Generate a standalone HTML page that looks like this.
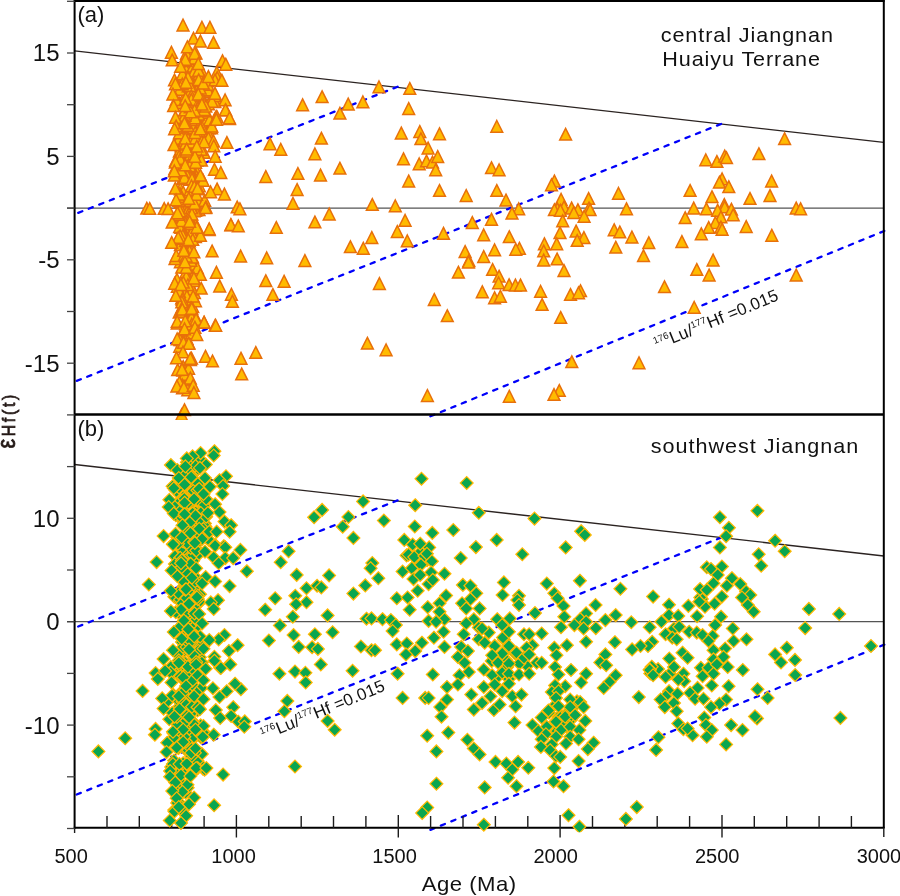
<!DOCTYPE html><html><head><meta charset="utf-8"><title>Hf isotope plot</title>
<style>html,body{margin:0;padding:0;background:#fff}svg{display:block}text{font-family:"Liberation Sans",Arial,sans-serif;fill:#111}</style></head><body>
<svg width="900" height="896" viewBox="0 0 900 896">
<rect width="900" height="896" fill="#fff"/>
<defs><clipPath id="ca"><rect x="70" y="0" width="820" height="420"/></clipPath><clipPath id="cb"><rect x="70" y="414.2" width="820" height="418"/></clipPath></defs>
<g fill="none" stroke="#2b2321" stroke-width="1.3">
<path d="M74.6 50.9L883.8 142.4"/>
<path d="M74.6 464.5L883.8 556"/>
</g>
<g fill="none" stroke="#555" stroke-width="1.3">
<path d="M67 208.1H883.8"/>
<path d="M67 621.7H883.8"/>
</g>
<g fill="none" stroke="#0000fa" stroke-width="2.3" stroke-linecap="round" stroke-dasharray="4.4 6.9">
<g clip-path="url(#ca)">
<path d="M78.2 212.9L398 86.6"/>
<path d="M76.7 380.9L721.8 123.7"/>
<path d="M430.4 416.3L884.5 230.9"/>
</g><g clip-path="url(#cb)">
<path d="M78.2 626.5L398 500.2"/>
<path d="M76.7 794.5L721.8 537.3"/>
<path d="M430.4 829.9L884.5 644.5"/>
</g></g>
<g fill="none" stroke="#000" stroke-width="2">
<path d="M73.8 827.8H884.5999999999999"/>
</g><g fill="none" stroke="#1c1c1c" stroke-width="1.4">
<path d="M74.6 828V833"/>
<path d="M107.0 816V828"/>
<path d="M139.3 816V828"/>
<path d="M171.7 816V828"/>
<path d="M204.1 816V828"/>
<path d="M236.4 815V837.5"/>
<path d="M268.8 816V828"/>
<path d="M301.2 816V828"/>
<path d="M333.5 816V828"/>
<path d="M365.9 816V828"/>
<path d="M398.3 815V837.5"/>
<path d="M430.6 816V828"/>
<path d="M463.0 816V828"/>
<path d="M495.4 816V828"/>
<path d="M527.8 816V828"/>
<path d="M560.1 815V837.5"/>
<path d="M592.5 816V828"/>
<path d="M624.9 816V828"/>
<path d="M657.2 816V828"/>
<path d="M689.6 816V828"/>
<path d="M722.0 815V837.5"/>
<path d="M754.3 816V828"/>
<path d="M786.7 816V828"/>
<path d="M819.1 816V828"/>
<path d="M851.4 816V828"/>
<path d="M883.8 828V837"/>
</g>
<defs><path id="t" d="M0-5.9L5.9 5.85H-5.9Z"/></defs>
<g clip-path="url(#ca)" fill="#FFBB00" stroke="#E8700A" stroke-width="1.5">
<use href="#t" x="186.9" y="77.6"/>
<use href="#t" x="202.7" y="72.9"/>
<use href="#t" x="190.9" y="293.3"/>
<use href="#t" x="197.1" y="172.3"/>
<use href="#t" x="184.4" y="334.5"/>
<use href="#t" x="201.6" y="96.2"/>
<use href="#t" x="186.4" y="159.0"/>
<use href="#t" x="178.8" y="143.6"/>
<use href="#t" x="192.5" y="257.0"/>
<use href="#t" x="187.0" y="163.4"/>
<use href="#t" x="192.9" y="198.1"/>
<use href="#t" x="194.0" y="171.8"/>
<use href="#t" x="184.8" y="95.5"/>
<use href="#t" x="194.7" y="187.0"/>
<use href="#t" x="193.9" y="190.5"/>
<use href="#t" x="180.4" y="261.8"/>
<use href="#t" x="187.2" y="323.4"/>
<use href="#t" x="194.2" y="102.4"/>
<use href="#t" x="179.2" y="138.4"/>
<use href="#t" x="182.5" y="237.2"/>
<use href="#t" x="207.3" y="140.9"/>
<use href="#t" x="174.8" y="168.7"/>
<use href="#t" x="184.4" y="244.1"/>
<use href="#t" x="182.7" y="178.7"/>
<use href="#t" x="208.0" y="80.8"/>
<use href="#t" x="179.7" y="218.7"/>
<use href="#t" x="186.3" y="70.0"/>
<use href="#t" x="180.4" y="244.7"/>
<use href="#t" x="190.5" y="179.5"/>
<use href="#t" x="185.4" y="225.3"/>
<use href="#t" x="198.6" y="137.2"/>
<use href="#t" x="207.5" y="123.0"/>
<use href="#t" x="192.3" y="278.8"/>
<use href="#t" x="184.9" y="208.7"/>
<use href="#t" x="186.2" y="87.1"/>
<use href="#t" x="186.0" y="232.9"/>
<use href="#t" x="179.2" y="312.2"/>
<use href="#t" x="198.3" y="119.6"/>
<use href="#t" x="216.3" y="97.9"/>
<use href="#t" x="197.4" y="117.5"/>
<use href="#t" x="194.6" y="278.9"/>
<use href="#t" x="181.0" y="146.0"/>
<use href="#t" x="179.4" y="151.1"/>
<use href="#t" x="185.5" y="324.0"/>
<use href="#t" x="190.4" y="168.8"/>
<use href="#t" x="209.0" y="127.8"/>
<use href="#t" x="194.5" y="78.0"/>
<use href="#t" x="183.9" y="76.5"/>
<use href="#t" x="193.4" y="224.1"/>
<use href="#t" x="208.8" y="141.5"/>
<use href="#t" x="183.4" y="172.2"/>
<use href="#t" x="188.0" y="55.8"/>
<use href="#t" x="179.7" y="89.4"/>
<use href="#t" x="186.1" y="230.0"/>
<use href="#t" x="189.4" y="240.9"/>
<use href="#t" x="188.8" y="166.3"/>
<use href="#t" x="191.4" y="172.8"/>
<use href="#t" x="200.9" y="105.9"/>
<use href="#t" x="188.6" y="177.5"/>
<use href="#t" x="177.1" y="165.2"/>
<use href="#t" x="210.0" y="127.2"/>
<use href="#t" x="194.6" y="273.2"/>
<use href="#t" x="190.6" y="328.3"/>
<use href="#t" x="190.8" y="304.0"/>
<use href="#t" x="182.3" y="236.5"/>
<use href="#t" x="185.7" y="244.6"/>
<use href="#t" x="183.2" y="366.5"/>
<use href="#t" x="191.9" y="99.3"/>
<use href="#t" x="188.7" y="176.1"/>
<use href="#t" x="193.4" y="152.0"/>
<use href="#t" x="193.9" y="88.3"/>
<use href="#t" x="175.6" y="160.5"/>
<use href="#t" x="195.9" y="124.3"/>
<use href="#t" x="194.4" y="292.6"/>
<use href="#t" x="186.0" y="209.3"/>
<use href="#t" x="199.0" y="209.7"/>
<use href="#t" x="183.9" y="220.7"/>
<use href="#t" x="211.2" y="125.9"/>
<use href="#t" x="182.4" y="120.2"/>
<use href="#t" x="187.3" y="213.0"/>
<use href="#t" x="180.0" y="202.4"/>
<use href="#t" x="186.7" y="249.5"/>
<use href="#t" x="187.7" y="143.3"/>
<use href="#t" x="184.6" y="300.0"/>
<use href="#t" x="183.6" y="101.8"/>
<use href="#t" x="194.0" y="210.8"/>
<use href="#t" x="180.7" y="117.8"/>
<use href="#t" x="206.6" y="120.0"/>
<use href="#t" x="204.1" y="152.5"/>
<use href="#t" x="187.8" y="278.4"/>
<use href="#t" x="180.4" y="160.6"/>
<use href="#t" x="204.3" y="90.0"/>
<use href="#t" x="188.4" y="111.5"/>
<use href="#t" x="182.2" y="235.5"/>
<use href="#t" x="211.5" y="127.9"/>
<use href="#t" x="192.8" y="306.7"/>
<use href="#t" x="190.9" y="89.2"/>
<use href="#t" x="183.3" y="255.8"/>
<use href="#t" x="190.4" y="200.4"/>
<use href="#t" x="185.6" y="223.3"/>
<use href="#t" x="194.3" y="133.5"/>
<use href="#t" x="193.4" y="279.7"/>
<use href="#t" x="184.6" y="233.2"/>
<use href="#t" x="193.1" y="66.1"/>
<use href="#t" x="187.0" y="129.3"/>
<use href="#t" x="196.2" y="204.8"/>
<use href="#t" x="214.9" y="101.6"/>
<use href="#t" x="194.2" y="203.4"/>
<use href="#t" x="191.0" y="158.7"/>
<use href="#t" x="182.3" y="337.2"/>
<use href="#t" x="181.7" y="153.3"/>
<use href="#t" x="196.0" y="136.0"/>
<use href="#t" x="190.2" y="380.3"/>
<use href="#t" x="193.4" y="106.8"/>
<use href="#t" x="199.5" y="124.5"/>
<use href="#t" x="193.5" y="85.3"/>
<use href="#t" x="174.5" y="80.0"/>
<use href="#t" x="193.8" y="72.8"/>
<use href="#t" x="184.2" y="252.7"/>
<use href="#t" x="196.5" y="82.4"/>
<use href="#t" x="192.0" y="204.5"/>
<use href="#t" x="189.2" y="205.8"/>
<use href="#t" x="182.7" y="370.1"/>
<use href="#t" x="185.8" y="153.4"/>
<use href="#t" x="194.3" y="224.6"/>
<use href="#t" x="195.6" y="68.1"/>
<use href="#t" x="179.2" y="156.1"/>
<use href="#t" x="185.4" y="240.7"/>
<use href="#t" x="197.1" y="160.1"/>
<use href="#t" x="185.5" y="264.4"/>
<use href="#t" x="186.9" y="158.3"/>
<use href="#t" x="180.3" y="188.9"/>
<use href="#t" x="195.3" y="98.1"/>
<use href="#t" x="195.4" y="236.7"/>
<use href="#t" x="181.8" y="267.2"/>
<use href="#t" x="191.7" y="54.6"/>
<use href="#t" x="183.5" y="291.8"/>
<use href="#t" x="199.2" y="133.5"/>
<use href="#t" x="194.1" y="109.1"/>
<use href="#t" x="194.9" y="224.0"/>
<use href="#t" x="216.2" y="116.4"/>
<use href="#t" x="183.4" y="214.1"/>
<use href="#t" x="188.0" y="240.6"/>
<use href="#t" x="195.2" y="235.6"/>
<use href="#t" x="191.7" y="191.0"/>
<use href="#t" x="195.3" y="188.0"/>
<use href="#t" x="204.2" y="81.4"/>
<use href="#t" x="183.0" y="159.8"/>
<use href="#t" x="189.7" y="179.3"/>
<use href="#t" x="196.4" y="132.6"/>
<use href="#t" x="186.1" y="151.0"/>
<use href="#t" x="210.0" y="91.9"/>
<use href="#t" x="188.9" y="326.2"/>
<use href="#t" x="195.0" y="58.7"/>
<use href="#t" x="181.6" y="339.7"/>
<use href="#t" x="181.6" y="160.6"/>
<use href="#t" x="185.0" y="236.4"/>
<use href="#t" x="189.5" y="80.8"/>
<use href="#t" x="189.6" y="273.2"/>
<use href="#t" x="203.3" y="112.4"/>
<use href="#t" x="195.0" y="159.7"/>
<use href="#t" x="180.9" y="227.4"/>
<use href="#t" x="199.3" y="185.9"/>
<use href="#t" x="199.4" y="126.3"/>
<use href="#t" x="205.0" y="103.9"/>
<use href="#t" x="216.8" y="72.4"/>
<use href="#t" x="214.6" y="119.4"/>
<use href="#t" x="184.0" y="341.9"/>
<use href="#t" x="192.5" y="230.9"/>
<use href="#t" x="186.3" y="135.4"/>
<use href="#t" x="194.9" y="180.6"/>
<use href="#t" x="190.8" y="165.7"/>
<use href="#t" x="188.0" y="381.6"/>
<use href="#t" x="188.2" y="310.4"/>
<use href="#t" x="198.4" y="114.1"/>
<use href="#t" x="183.4" y="336.2"/>
<use href="#t" x="192.7" y="189.6"/>
<use href="#t" x="180.8" y="201.9"/>
<use href="#t" x="184.3" y="164.3"/>
<use href="#t" x="185.4" y="237.5"/>
<use href="#t" x="183.1" y="216.7"/>
<use href="#t" x="192.7" y="177.9"/>
<use href="#t" x="184.3" y="383.3"/>
<use href="#t" x="190.1" y="177.2"/>
<use href="#t" x="209.5" y="119.8"/>
<use href="#t" x="200.1" y="135.0"/>
<use href="#t" x="209.2" y="90.1"/>
<use href="#t" x="177.4" y="286.3"/>
<use href="#t" x="188.9" y="342.9"/>
<use href="#t" x="185.2" y="144.2"/>
<use href="#t" x="178.2" y="238.4"/>
<use href="#t" x="208.4" y="104.0"/>
<use href="#t" x="187.2" y="104.7"/>
<use href="#t" x="187.0" y="385.7"/>
<use href="#t" x="183.8" y="329.9"/>
<use href="#t" x="192.2" y="289.1"/>
<use href="#t" x="186.0" y="276.1"/>
<use href="#t" x="186.8" y="213.2"/>
<use href="#t" x="194.2" y="71.1"/>
<use href="#t" x="207.7" y="89.8"/>
<use href="#t" x="182.1" y="215.2"/>
<use href="#t" x="188.1" y="103.6"/>
<use href="#t" x="182.9" y="216.6"/>
<use href="#t" x="184.2" y="375.2"/>
<use href="#t" x="182.2" y="297.3"/>
<use href="#t" x="182.1" y="172.9"/>
<use href="#t" x="183.5" y="386.0"/>
<use href="#t" x="179.6" y="226.7"/>
<use href="#t" x="183.3" y="173.2"/>
<use href="#t" x="182.5" y="167.2"/>
<use href="#t" x="188.6" y="368.3"/>
<use href="#t" x="190.1" y="207.9"/>
<use href="#t" x="182.7" y="341.6"/>
<use href="#t" x="184.4" y="302.8"/>
<use href="#t" x="191.7" y="232.5"/>
<use href="#t" x="182.2" y="125.1"/>
<use href="#t" x="191.5" y="358.2"/>
<use href="#t" x="207.8" y="84.4"/>
<use href="#t" x="181.6" y="200.5"/>
<use href="#t" x="180.3" y="158.8"/>
<use href="#t" x="187.7" y="298.8"/>
<use href="#t" x="198.6" y="132.9"/>
<use href="#t" x="187.0" y="167.0"/>
<use href="#t" x="205.5" y="110.8"/>
<use href="#t" x="186.1" y="80.0"/>
<use href="#t" x="187.9" y="309.6"/>
<use href="#t" x="183.1" y="300.9"/>
<use href="#t" x="196.0" y="53.2"/>
<use href="#t" x="187.0" y="338.4"/>
<use href="#t" x="188.3" y="126.6"/>
<use href="#t" x="190.5" y="154.5"/>
<use href="#t" x="183.9" y="117.2"/>
<use href="#t" x="188.2" y="85.9"/>
<use href="#t" x="196.3" y="210.0"/>
<use href="#t" x="184.7" y="374.4"/>
<use href="#t" x="186.6" y="174.2"/>
<use href="#t" x="187.7" y="200.3"/>
<use href="#t" x="188.6" y="164.8"/>
<use href="#t" x="190.1" y="309.5"/>
<use href="#t" x="193.4" y="146.6"/>
<use href="#t" x="193.1" y="147.4"/>
<use href="#t" x="193.9" y="264.2"/>
<use href="#t" x="195.0" y="198.9"/>
<use href="#t" x="197.7" y="151.6"/>
<use href="#t" x="175.0" y="258.7"/>
<use href="#t" x="195.5" y="300.9"/>
<use href="#t" x="192.9" y="128.6"/>
<use href="#t" x="195.1" y="210.3"/>
<use href="#t" x="188.2" y="299.9"/>
<use href="#t" x="177.0" y="279.4"/>
<use href="#t" x="183.0" y="206.3"/>
<use href="#t" x="197.4" y="268.0"/>
<use href="#t" x="190.8" y="260.3"/>
<use href="#t" x="191.0" y="94.4"/>
<use href="#t" x="189.7" y="165.7"/>
<use href="#t" x="198.6" y="188.9"/>
<use href="#t" x="198.8" y="125.9"/>
<use href="#t" x="207.6" y="132.1"/>
<use href="#t" x="198.7" y="140.4"/>
<use href="#t" x="186.0" y="271.8"/>
<use href="#t" x="186.9" y="296.3"/>
<use href="#t" x="181.5" y="311.3"/>
<use href="#t" x="200.0" y="102.3"/>
<use href="#t" x="195.7" y="185.2"/>
<use href="#t" x="188.3" y="277.8"/>
<use href="#t" x="199.2" y="73.6"/>
<use href="#t" x="174.7" y="283.3"/>
<use href="#t" x="179.1" y="102.7"/>
<use href="#t" x="194.7" y="143.4"/>
<use href="#t" x="214.8" y="95.6"/>
<use href="#t" x="189.2" y="254.8"/>
<use href="#t" x="185.5" y="209.6"/>
<use href="#t" x="182.8" y="235.6"/>
<use href="#t" x="186.5" y="53.5"/>
<use href="#t" x="192.7" y="239.5"/>
<use href="#t" x="185.5" y="322.5"/>
<use href="#t" x="193.9" y="280.6"/>
<use href="#t" x="193.6" y="127.5"/>
<use href="#t" x="190.8" y="110.9"/>
<use href="#t" x="197.2" y="104.3"/>
<use href="#t" x="180.3" y="207.7"/>
<use href="#t" x="185.7" y="143.1"/>
<use href="#t" x="193.0" y="111.7"/>
<use href="#t" x="217.2" y="117.0"/>
<use href="#t" x="191.4" y="206.9"/>
<use href="#t" x="190.5" y="359.6"/>
<use href="#t" x="186.1" y="60.6"/>
<use href="#t" x="186.3" y="276.8"/>
<use href="#t" x="181.7" y="298.1"/>
<use href="#t" x="191.3" y="119.6"/>
<use href="#t" x="182.2" y="384.7"/>
<use href="#t" x="187.9" y="284.7"/>
<use href="#t" x="195.1" y="117.8"/>
<use href="#t" x="202.0" y="127.4"/>
<use href="#t" x="201.2" y="134.7"/>
<use href="#t" x="217.2" y="77.6"/>
<use href="#t" x="184.9" y="115.3"/>
<use href="#t" x="192.2" y="257.2"/>
<use href="#t" x="187.9" y="240.9"/>
<use href="#t" x="196.8" y="90.9"/>
<use href="#t" x="201.0" y="149.4"/>
<use href="#t" x="196.7" y="199.8"/>
<use href="#t" x="189.5" y="251.2"/>
<use href="#t" x="177.7" y="369.7"/>
<use href="#t" x="194.4" y="58.2"/>
<use href="#t" x="200.2" y="88.2"/>
<use href="#t" x="202.8" y="100.2"/>
<use href="#t" x="190.3" y="142.2"/>
<use href="#t" x="190.4" y="104.4"/>
<use href="#t" x="191.0" y="90.4"/>
<use href="#t" x="185.8" y="214.4"/>
<use href="#t" x="176.2" y="255.6"/>
<use href="#t" x="187.1" y="212.0"/>
<use href="#t" x="184.0" y="329.6"/>
<use href="#t" x="180.8" y="200.9"/>
<use href="#t" x="182.5" y="387.9"/>
<use href="#t" x="191.5" y="317.3"/>
<use href="#t" x="189.1" y="83.9"/>
<use href="#t" x="183.3" y="282.2"/>
<use href="#t" x="191.5" y="208.0"/>
<use href="#t" x="199.1" y="71.0"/>
<use href="#t" x="186.3" y="267.4"/>
<use href="#t" x="198.0" y="107.8"/>
<use href="#t" x="189.9" y="85.6"/>
<use href="#t" x="179.9" y="339.6"/>
<use href="#t" x="178.9" y="200.5"/>
<use href="#t" x="190.9" y="334.3"/>
<use href="#t" x="185.1" y="109.9"/>
<use href="#t" x="204.2" y="109.6"/>
<use href="#t" x="184.2" y="175.2"/>
<use href="#t" x="212.0" y="101.4"/>
<use href="#t" x="189.0" y="216.7"/>
<use href="#t" x="201.4" y="160.2"/>
<use href="#t" x="180.1" y="235.9"/>
<use href="#t" x="183.2" y="192.1"/>
<use href="#t" x="182.5" y="73.9"/>
<use href="#t" x="191.2" y="223.4"/>
<use href="#t" x="191.7" y="324.2"/>
<use href="#t" x="184.7" y="254.4"/>
<use href="#t" x="181.9" y="307.2"/>
<use href="#t" x="184.5" y="177.3"/>
<use href="#t" x="200.9" y="79.8"/>
<use href="#t" x="191.1" y="309.0"/>
<use href="#t" x="190.2" y="106.8"/>
<use href="#t" x="190.6" y="200.4"/>
<use href="#t" x="186.2" y="256.1"/>
<use href="#t" x="181.0" y="170.0"/>
<use href="#t" x="215.0" y="80.0"/>
<use href="#t" x="195.5" y="138.1"/>
<use href="#t" x="195.2" y="132.6"/>
<use href="#t" x="191.9" y="214.1"/>
<use href="#t" x="205.8" y="106.1"/>
<use href="#t" x="201.8" y="141.5"/>
<use href="#t" x="176.2" y="99.6"/>
<use href="#t" x="192.0" y="179.0"/>
<use href="#t" x="187.9" y="125.4"/>
<use href="#t" x="178.6" y="196.5"/>
<use href="#t" x="184.4" y="249.3"/>
<use href="#t" x="179.4" y="291.3"/>
<use href="#t" x="190.1" y="189.9"/>
<use href="#t" x="182.3" y="84.0"/>
<use href="#t" x="182.2" y="299.4"/>
<use href="#t" x="208.4" y="138.0"/>
<use href="#t" x="203.1" y="180.3"/>
<use href="#t" x="198.6" y="70.4"/>
<use href="#t" x="191.3" y="95.8"/>
<use href="#t" x="180.2" y="193.9"/>
<use href="#t" x="211.8" y="126.1"/>
<use href="#t" x="181.8" y="301.8"/>
<use href="#t" x="187.9" y="77.5"/>
<use href="#t" x="181.4" y="220.6"/>
<use href="#t" x="195.6" y="162.3"/>
<use href="#t" x="191.5" y="185.9"/>
<use href="#t" x="179.9" y="211.0"/>
<use href="#t" x="186.1" y="151.1"/>
<use href="#t" x="191.3" y="99.6"/>
<use href="#t" x="184.9" y="261.8"/>
<use href="#t" x="198.7" y="79.7"/>
<use href="#t" x="191.9" y="332.9"/>
<use href="#t" x="204.7" y="200.3"/>
<use href="#t" x="179.7" y="346.3"/>
<use href="#t" x="185.3" y="59.4"/>
<use href="#t" x="213.5" y="141.1"/>
<use href="#t" x="188.3" y="239.6"/>
<use href="#t" x="179.4" y="132.8"/>
<use href="#t" x="178.2" y="237.5"/>
<use href="#t" x="194.6" y="203.5"/>
<use href="#t" x="176.1" y="127.3"/>
<use href="#t" x="194.4" y="186.5"/>
<use href="#t" x="196.5" y="194.4"/>
<use href="#t" x="187.8" y="389.8"/>
<use href="#t" x="194.9" y="156.4"/>
<use href="#t" x="194.6" y="110.3"/>
<use href="#t" x="190.6" y="111.8"/>
<use href="#t" x="183.0" y="25.1"/>
<use href="#t" x="201.9" y="27.3"/>
<use href="#t" x="209.9" y="27.3"/>
<use href="#t" x="193.5" y="38.2"/>
<use href="#t" x="200.4" y="41.1"/>
<use href="#t" x="213.5" y="42.5"/>
<use href="#t" x="171.4" y="52.3"/>
<use href="#t" x="187.4" y="46.9"/>
<use href="#t" x="194.6" y="53.4"/>
<use href="#t" x="222.5" y="60.7"/>
<use href="#t" x="225.8" y="64.3"/>
<use href="#t" x="198.3" y="63.6"/>
<use href="#t" x="180.6" y="66.5"/>
<use href="#t" x="172.2" y="60.0"/>
<use href="#t" x="203.3" y="83.2"/>
<use href="#t" x="185.9" y="82.4"/>
<use href="#t" x="208.4" y="76.6"/>
<use href="#t" x="221.9" y="80.3"/>
<use href="#t" x="215.0" y="93.3"/>
<use href="#t" x="198.3" y="94.1"/>
<use href="#t" x="185.6" y="98.4"/>
<use href="#t" x="201.9" y="104.2"/>
<use href="#t" x="185.2" y="105.7"/>
<use href="#t" x="225.1" y="99.9"/>
<use href="#t" x="225.8" y="110.0"/>
<use href="#t" x="229.5" y="118.7"/>
<use href="#t" x="216.4" y="119.4"/>
<use href="#t" x="185.2" y="122.3"/>
<use href="#t" x="200.4" y="128.1"/>
<use href="#t" x="175.5" y="83.9"/>
<use href="#t" x="172.9" y="94.1"/>
<use href="#t" x="173.6" y="105.7"/>
<use href="#t" x="175.5" y="117.3"/>
<use href="#t" x="176.1" y="126.0"/>
<use href="#t" x="225.4" y="109.9"/>
<use href="#t" x="229.5" y="117.9"/>
<use href="#t" x="216.4" y="119.3"/>
<use href="#t" x="226.9" y="142.5"/>
<use href="#t" x="213.8" y="145.9"/>
<use href="#t" x="215.2" y="156.3"/>
<use href="#t" x="214.5" y="169.4"/>
<use href="#t" x="220.8" y="172.6"/>
<use href="#t" x="217.1" y="189.0"/>
<use href="#t" x="224.4" y="194.1"/>
<use href="#t" x="210.6" y="191.9"/>
<use href="#t" x="206.0" y="207.1"/>
<use href="#t" x="230.9" y="224.8"/>
<use href="#t" x="209.2" y="229.6"/>
<use href="#t" x="197.5" y="227.4"/>
<use href="#t" x="184.5" y="123.0"/>
<use href="#t" x="200.4" y="128.8"/>
<use href="#t" x="185.2" y="138.2"/>
<use href="#t" x="204.1" y="141.8"/>
<use href="#t" x="186.7" y="149.1"/>
<use href="#t" x="196.8" y="146.2"/>
<use href="#t" x="185.2" y="165.0"/>
<use href="#t" x="174.3" y="175.2"/>
<use href="#t" x="200.4" y="175.2"/>
<use href="#t" x="197.5" y="188.2"/>
<use href="#t" x="179.4" y="194.1"/>
<use href="#t" x="188.8" y="198.4"/>
<use href="#t" x="178.0" y="214.4"/>
<use href="#t" x="174.6" y="128.8"/>
<use href="#t" x="174.0" y="144.7"/>
<use href="#t" x="175.3" y="162.1"/>
<use href="#t" x="174.3" y="170.8"/>
<use href="#t" x="175.3" y="188.2"/>
<use href="#t" x="176.1" y="199.9"/>
<use href="#t" x="146.8" y="208.2"/>
<use href="#t" x="149.7" y="208.5"/>
<use href="#t" x="164.2" y="208.5"/>
<use href="#t" x="168.1" y="208.7"/>
<use href="#t" x="205.5" y="207.7"/>
<use href="#t" x="230.9" y="224.7"/>
<use href="#t" x="209.2" y="228.8"/>
<use href="#t" x="200.4" y="235.3"/>
<use href="#t" x="196.8" y="227.3"/>
<use href="#t" x="189.6" y="221.5"/>
<use href="#t" x="172.2" y="222.2"/>
<use href="#t" x="177.5" y="212.8"/>
<use href="#t" x="212.1" y="251.0"/>
<use href="#t" x="171.7" y="242.5"/>
<use href="#t" x="183.8" y="250.5"/>
<use href="#t" x="193.9" y="252.0"/>
<use href="#t" x="216.4" y="272.3"/>
<use href="#t" x="219.7" y="286.1"/>
<use href="#t" x="231.4" y="294.3"/>
<use href="#t" x="232.4" y="301.3"/>
<use href="#t" x="200.4" y="274.5"/>
<use href="#t" x="193.9" y="278.1"/>
<use href="#t" x="180.9" y="284.6"/>
<use href="#t" x="201.2" y="288.2"/>
<use href="#t" x="193.2" y="296.2"/>
<use href="#t" x="175.8" y="295.5"/>
<use href="#t" x="191.0" y="307.8"/>
<use href="#t" x="181.6" y="308.6"/>
<use href="#t" x="215.2" y="325.2"/>
<use href="#t" x="204.1" y="322.3"/>
<use href="#t" x="196.8" y="319.4"/>
<use href="#t" x="177.2" y="323.1"/>
<use href="#t" x="182.3" y="309.2"/>
<use href="#t" x="191.7" y="308.5"/>
<use href="#t" x="196.1" y="319.3"/>
<use href="#t" x="204.1" y="322.2"/>
<use href="#t" x="215.7" y="325.4"/>
<use href="#t" x="177.2" y="321.5"/>
<use href="#t" x="185.2" y="320.8"/>
<use href="#t" x="184.5" y="328.8"/>
<use href="#t" x="194.9" y="327.3"/>
<use href="#t" x="196.8" y="334.6"/>
<use href="#t" x="177.2" y="338.9"/>
<use href="#t" x="183.5" y="342.5"/>
<use href="#t" x="188.8" y="343.3"/>
<use href="#t" x="183.0" y="352.0"/>
<use href="#t" x="176.5" y="357.8"/>
<use href="#t" x="190.3" y="358.5"/>
<use href="#t" x="205.5" y="356.3"/>
<use href="#t" x="212.5" y="361.0"/>
<use href="#t" x="182.0" y="369.4"/>
<use href="#t" x="190.3" y="378.1"/>
<use href="#t" x="179.4" y="382.4"/>
<use href="#t" x="176.9" y="386.1"/>
<use href="#t" x="183.8" y="387.5"/>
<use href="#t" x="193.2" y="385.3"/>
<use href="#t" x="193.9" y="392.6"/>
<use href="#t" x="181.6" y="414.7"/>
<use href="#t" x="184.5" y="409.7"/>
<use href="#t" x="302.6" y="104.8"/>
<use href="#t" x="322.1" y="96.7"/>
<use href="#t" x="348.2" y="104.1"/>
<use href="#t" x="339.9" y="113.2"/>
<use href="#t" x="362.9" y="101.9"/>
<use href="#t" x="379.0" y="86.9"/>
<use href="#t" x="409.8" y="88.5"/>
<use href="#t" x="408.7" y="108.6"/>
<use href="#t" x="401.3" y="133.1"/>
<use href="#t" x="419.8" y="131.6"/>
<use href="#t" x="420.9" y="138.7"/>
<use href="#t" x="428.1" y="148.1"/>
<use href="#t" x="321.4" y="138.2"/>
<use href="#t" x="270.0" y="143.8"/>
<use href="#t" x="280.8" y="149.4"/>
<use href="#t" x="314.9" y="153.9"/>
<use href="#t" x="403.5" y="158.8"/>
<use href="#t" x="419.2" y="163.9"/>
<use href="#t" x="426.5" y="161.0"/>
<use href="#t" x="432.5" y="162.1"/>
<use href="#t" x="339.9" y="168.2"/>
<use href="#t" x="265.8" y="176.6"/>
<use href="#t" x="297.9" y="173.5"/>
<use href="#t" x="320.5" y="175.1"/>
<use href="#t" x="408.7" y="181.1"/>
<use href="#t" x="297.1" y="189.6"/>
<use href="#t" x="293.0" y="203.4"/>
<use href="#t" x="372.3" y="204.5"/>
<use href="#t" x="395.3" y="205.9"/>
<use href="#t" x="439.5" y="133.8"/>
<use href="#t" x="496.8" y="126.4"/>
<use href="#t" x="565.6" y="134.2"/>
<use href="#t" x="437.7" y="156.6"/>
<use href="#t" x="435.7" y="169.9"/>
<use href="#t" x="491.5" y="167.7"/>
<use href="#t" x="499.1" y="169.9"/>
<use href="#t" x="554.4" y="181.1"/>
<use href="#t" x="551.5" y="184.9"/>
<use href="#t" x="439.5" y="190.5"/>
<use href="#t" x="466.2" y="195.6"/>
<use href="#t" x="496.8" y="190.5"/>
<use href="#t" x="506.0" y="200.1"/>
<use href="#t" x="561.1" y="199.4"/>
<use href="#t" x="588.6" y="198.5"/>
<use href="#t" x="618.5" y="193.4"/>
<use href="#t" x="784.6" y="138.7"/>
<use href="#t" x="758.9" y="153.7"/>
<use href="#t" x="705.8" y="159.9"/>
<use href="#t" x="716.9" y="161.5"/>
<use href="#t" x="724.7" y="156.1"/>
<use href="#t" x="726.5" y="157.7"/>
<use href="#t" x="722.1" y="178.9"/>
<use href="#t" x="719.4" y="182.2"/>
<use href="#t" x="728.8" y="186.7"/>
<use href="#t" x="771.6" y="181.1"/>
<use href="#t" x="690.1" y="190.5"/>
<use href="#t" x="712.0" y="196.7"/>
<use href="#t" x="770.0" y="195.6"/>
<use href="#t" x="750.0" y="198.5"/>
<use href="#t" x="724.3" y="204.5"/>
<use href="#t" x="237.2" y="207.0"/>
<use href="#t" x="239.9" y="208.8"/>
<use href="#t" x="238.3" y="226.0"/>
<use href="#t" x="276.3" y="227.5"/>
<use href="#t" x="314.9" y="222.0"/>
<use href="#t" x="329.2" y="214.1"/>
<use href="#t" x="405.1" y="220.4"/>
<use href="#t" x="397.3" y="231.6"/>
<use href="#t" x="407.3" y="240.9"/>
<use href="#t" x="371.8" y="237.6"/>
<use href="#t" x="350.4" y="246.7"/>
<use href="#t" x="363.3" y="248.3"/>
<use href="#t" x="240.6" y="256.1"/>
<use href="#t" x="266.7" y="257.9"/>
<use href="#t" x="304.9" y="260.6"/>
<use href="#t" x="265.8" y="280.7"/>
<use href="#t" x="284.1" y="281.3"/>
<use href="#t" x="272.9" y="294.5"/>
<use href="#t" x="379.4" y="283.6"/>
<use href="#t" x="434.3" y="299.6"/>
<use href="#t" x="367.4" y="343.2"/>
<use href="#t" x="386.1" y="349.9"/>
<use href="#t" x="255.8" y="352.5"/>
<use href="#t" x="241.0" y="358.3"/>
<use href="#t" x="241.7" y="374.0"/>
<use href="#t" x="427.4" y="395.6"/>
<use href="#t" x="518.7" y="208.8"/>
<use href="#t" x="512.0" y="213.2"/>
<use href="#t" x="564.0" y="207.0"/>
<use href="#t" x="557.3" y="208.8"/>
<use href="#t" x="554.4" y="209.7"/>
<use href="#t" x="560.4" y="210.3"/>
<use href="#t" x="571.6" y="208.1"/>
<use href="#t" x="577.9" y="209.7"/>
<use href="#t" x="573.8" y="212.6"/>
<use href="#t" x="589.0" y="208.1"/>
<use href="#t" x="590.1" y="209.7"/>
<use href="#t" x="584.1" y="216.4"/>
<use href="#t" x="626.5" y="208.8"/>
<use href="#t" x="562.7" y="220.8"/>
<use href="#t" x="443.5" y="233.3"/>
<use href="#t" x="472.3" y="222.6"/>
<use href="#t" x="491.5" y="219.3"/>
<use href="#t" x="483.7" y="234.9"/>
<use href="#t" x="509.3" y="236.7"/>
<use href="#t" x="560.0" y="232.7"/>
<use href="#t" x="576.1" y="231.1"/>
<use href="#t" x="583.9" y="237.6"/>
<use href="#t" x="577.2" y="240.5"/>
<use href="#t" x="614.2" y="229.8"/>
<use href="#t" x="619.8" y="232.0"/>
<use href="#t" x="631.9" y="237.1"/>
<use href="#t" x="615.8" y="247.2"/>
<use href="#t" x="556.7" y="243.8"/>
<use href="#t" x="544.4" y="243.8"/>
<use href="#t" x="543.7" y="251.0"/>
<use href="#t" x="543.7" y="260.1"/>
<use href="#t" x="465.1" y="251.6"/>
<use href="#t" x="468.9" y="260.6"/>
<use href="#t" x="468.5" y="262.1"/>
<use href="#t" x="494.6" y="249.9"/>
<use href="#t" x="483.7" y="256.6"/>
<use href="#t" x="519.4" y="248.3"/>
<use href="#t" x="515.8" y="249.4"/>
<use href="#t" x="557.1" y="259.0"/>
<use href="#t" x="458.4" y="272.2"/>
<use href="#t" x="492.6" y="269.5"/>
<use href="#t" x="499.1" y="276.2"/>
<use href="#t" x="498.6" y="282.9"/>
<use href="#t" x="509.1" y="284.7"/>
<use href="#t" x="515.4" y="285.1"/>
<use href="#t" x="520.5" y="285.1"/>
<use href="#t" x="564.0" y="270.6"/>
<use href="#t" x="482.3" y="291.8"/>
<use href="#t" x="494.6" y="297.8"/>
<use href="#t" x="500.4" y="296.3"/>
<use href="#t" x="540.6" y="291.4"/>
<use href="#t" x="542.1" y="304.5"/>
<use href="#t" x="570.5" y="294.5"/>
<use href="#t" x="580.5" y="290.7"/>
<use href="#t" x="578.5" y="292.9"/>
<use href="#t" x="447.3" y="315.7"/>
<use href="#t" x="560.7" y="317.5"/>
<use href="#t" x="571.8" y="361.7"/>
<use href="#t" x="509.3" y="396.3"/>
<use href="#t" x="559.3" y="390.5"/>
<use href="#t" x="554.0" y="394.5"/>
<use href="#t" x="693.7" y="208.1"/>
<use href="#t" x="706.4" y="208.8"/>
<use href="#t" x="724.7" y="207.0"/>
<use href="#t" x="731.4" y="209.2"/>
<use href="#t" x="717.6" y="210.3"/>
<use href="#t" x="796.2" y="208.1"/>
<use href="#t" x="800.6" y="208.8"/>
<use href="#t" x="685.2" y="217.7"/>
<use href="#t" x="720.9" y="217.0"/>
<use href="#t" x="733.2" y="214.8"/>
<use href="#t" x="715.4" y="222.6"/>
<use href="#t" x="708.7" y="227.5"/>
<use href="#t" x="720.9" y="227.1"/>
<use href="#t" x="722.1" y="229.3"/>
<use href="#t" x="701.3" y="233.8"/>
<use href="#t" x="746.2" y="226.6"/>
<use href="#t" x="771.8" y="235.3"/>
<use href="#t" x="648.8" y="242.7"/>
<use href="#t" x="681.9" y="241.6"/>
<use href="#t" x="643.5" y="255.7"/>
<use href="#t" x="713.1" y="260.1"/>
<use href="#t" x="696.8" y="269.5"/>
<use href="#t" x="709.1" y="275.1"/>
<use href="#t" x="796.2" y="275.1"/>
<use href="#t" x="664.5" y="286.7"/>
<use href="#t" x="694.2" y="307.4"/>
<use href="#t" x="639.0" y="362.8"/>
</g>
<defs><path id="d" d="M0-6.42L6.42 0L0 6.42L-6.42 0Z"/></defs>
<g clip-path="url(#cb)" fill="#0AA650" stroke="#FFB800" stroke-width="1.25">
<use href="#d" x="179.0" y="768.6"/>
<use href="#d" x="190.2" y="490.9"/>
<use href="#d" x="178.1" y="708.9"/>
<use href="#d" x="178.6" y="748.0"/>
<use href="#d" x="180.1" y="708.9"/>
<use href="#d" x="183.7" y="488.5"/>
<use href="#d" x="178.1" y="666.0"/>
<use href="#d" x="191.8" y="637.3"/>
<use href="#d" x="191.6" y="586.6"/>
<use href="#d" x="182.5" y="783.3"/>
<use href="#d" x="200.7" y="725.3"/>
<use href="#d" x="181.2" y="488.8"/>
<use href="#d" x="184.0" y="702.5"/>
<use href="#d" x="187.8" y="626.8"/>
<use href="#d" x="181.8" y="591.7"/>
<use href="#d" x="195.4" y="586.1"/>
<use href="#d" x="186.5" y="750.6"/>
<use href="#d" x="187.2" y="567.6"/>
<use href="#d" x="194.4" y="648.1"/>
<use href="#d" x="181.6" y="614.1"/>
<use href="#d" x="174.8" y="734.5"/>
<use href="#d" x="200.1" y="511.0"/>
<use href="#d" x="204.5" y="529.6"/>
<use href="#d" x="190.7" y="578.6"/>
<use href="#d" x="184.4" y="489.6"/>
<use href="#d" x="181.3" y="594.5"/>
<use href="#d" x="199.9" y="657.3"/>
<use href="#d" x="182.7" y="473.0"/>
<use href="#d" x="191.4" y="765.9"/>
<use href="#d" x="197.5" y="710.4"/>
<use href="#d" x="194.2" y="622.7"/>
<use href="#d" x="182.7" y="715.0"/>
<use href="#d" x="196.1" y="466.2"/>
<use href="#d" x="189.4" y="650.5"/>
<use href="#d" x="197.0" y="499.2"/>
<use href="#d" x="189.7" y="593.6"/>
<use href="#d" x="172.6" y="486.3"/>
<use href="#d" x="188.9" y="773.8"/>
<use href="#d" x="189.9" y="476.1"/>
<use href="#d" x="175.0" y="556.3"/>
<use href="#d" x="190.7" y="741.4"/>
<use href="#d" x="191.5" y="476.0"/>
<use href="#d" x="187.1" y="487.6"/>
<use href="#d" x="205.8" y="464.5"/>
<use href="#d" x="194.2" y="658.8"/>
<use href="#d" x="190.7" y="668.1"/>
<use href="#d" x="189.0" y="724.5"/>
<use href="#d" x="181.7" y="559.8"/>
<use href="#d" x="178.6" y="807.8"/>
<use href="#d" x="193.3" y="649.7"/>
<use href="#d" x="190.0" y="748.2"/>
<use href="#d" x="186.4" y="668.3"/>
<use href="#d" x="198.1" y="550.3"/>
<use href="#d" x="182.8" y="671.3"/>
<use href="#d" x="174.3" y="596.7"/>
<use href="#d" x="205.7" y="733.9"/>
<use href="#d" x="179.5" y="772.7"/>
<use href="#d" x="176.6" y="714.3"/>
<use href="#d" x="199.5" y="458.6"/>
<use href="#d" x="188.8" y="578.0"/>
<use href="#d" x="187.6" y="747.3"/>
<use href="#d" x="185.5" y="608.3"/>
<use href="#d" x="200.0" y="733.6"/>
<use href="#d" x="179.3" y="514.8"/>
<use href="#d" x="174.8" y="762.7"/>
<use href="#d" x="191.7" y="609.7"/>
<use href="#d" x="189.1" y="725.5"/>
<use href="#d" x="196.2" y="533.2"/>
<use href="#d" x="188.6" y="731.8"/>
<use href="#d" x="197.6" y="761.1"/>
<use href="#d" x="183.2" y="551.6"/>
<use href="#d" x="175.5" y="490.3"/>
<use href="#d" x="189.2" y="543.3"/>
<use href="#d" x="187.3" y="543.4"/>
<use href="#d" x="191.2" y="608.5"/>
<use href="#d" x="177.4" y="783.0"/>
<use href="#d" x="190.8" y="739.8"/>
<use href="#d" x="187.5" y="622.3"/>
<use href="#d" x="186.6" y="718.4"/>
<use href="#d" x="179.4" y="509.1"/>
<use href="#d" x="183.9" y="536.6"/>
<use href="#d" x="194.0" y="568.5"/>
<use href="#d" x="183.8" y="627.5"/>
<use href="#d" x="199.1" y="602.9"/>
<use href="#d" x="197.1" y="551.4"/>
<use href="#d" x="184.4" y="490.3"/>
<use href="#d" x="180.7" y="771.5"/>
<use href="#d" x="184.2" y="635.0"/>
<use href="#d" x="183.9" y="689.7"/>
<use href="#d" x="191.8" y="588.6"/>
<use href="#d" x="186.6" y="732.6"/>
<use href="#d" x="194.0" y="590.6"/>
<use href="#d" x="181.9" y="615.8"/>
<use href="#d" x="186.8" y="532.2"/>
<use href="#d" x="189.2" y="698.8"/>
<use href="#d" x="183.5" y="482.5"/>
<use href="#d" x="183.2" y="698.8"/>
<use href="#d" x="189.1" y="600.5"/>
<use href="#d" x="191.0" y="599.7"/>
<use href="#d" x="188.0" y="559.2"/>
<use href="#d" x="197.3" y="626.7"/>
<use href="#d" x="189.8" y="529.3"/>
<use href="#d" x="188.1" y="589.7"/>
<use href="#d" x="191.4" y="515.5"/>
<use href="#d" x="185.4" y="484.9"/>
<use href="#d" x="192.7" y="542.7"/>
<use href="#d" x="194.2" y="641.8"/>
<use href="#d" x="182.1" y="589.7"/>
<use href="#d" x="184.5" y="619.9"/>
<use href="#d" x="183.2" y="704.6"/>
<use href="#d" x="196.2" y="577.9"/>
<use href="#d" x="178.2" y="801.5"/>
<use href="#d" x="189.2" y="541.6"/>
<use href="#d" x="200.1" y="594.3"/>
<use href="#d" x="189.9" y="626.1"/>
<use href="#d" x="202.9" y="768.6"/>
<use href="#d" x="189.4" y="525.8"/>
<use href="#d" x="177.4" y="785.4"/>
<use href="#d" x="175.9" y="515.3"/>
<use href="#d" x="191.2" y="654.0"/>
<use href="#d" x="186.0" y="767.8"/>
<use href="#d" x="187.6" y="631.0"/>
<use href="#d" x="177.3" y="537.5"/>
<use href="#d" x="193.3" y="731.7"/>
<use href="#d" x="187.3" y="764.6"/>
<use href="#d" x="171.2" y="767.0"/>
<use href="#d" x="184.6" y="690.1"/>
<use href="#d" x="173.4" y="732.9"/>
<use href="#d" x="188.0" y="745.0"/>
<use href="#d" x="192.9" y="722.2"/>
<use href="#d" x="176.7" y="503.5"/>
<use href="#d" x="184.2" y="585.7"/>
<use href="#d" x="191.1" y="763.4"/>
<use href="#d" x="169.3" y="719.3"/>
<use href="#d" x="180.5" y="476.1"/>
<use href="#d" x="187.1" y="561.4"/>
<use href="#d" x="187.9" y="518.6"/>
<use href="#d" x="191.1" y="687.4"/>
<use href="#d" x="193.6" y="588.7"/>
<use href="#d" x="179.9" y="494.6"/>
<use href="#d" x="187.5" y="732.8"/>
<use href="#d" x="201.8" y="753.9"/>
<use href="#d" x="193.3" y="668.8"/>
<use href="#d" x="194.7" y="581.8"/>
<use href="#d" x="184.3" y="640.7"/>
<use href="#d" x="182.5" y="673.5"/>
<use href="#d" x="199.2" y="708.4"/>
<use href="#d" x="179.1" y="544.5"/>
<use href="#d" x="173.1" y="669.5"/>
<use href="#d" x="178.3" y="630.0"/>
<use href="#d" x="188.2" y="671.8"/>
<use href="#d" x="192.2" y="502.4"/>
<use href="#d" x="186.1" y="728.8"/>
<use href="#d" x="184.0" y="621.4"/>
<use href="#d" x="206.4" y="537.6"/>
<use href="#d" x="173.4" y="669.4"/>
<use href="#d" x="193.1" y="695.0"/>
<use href="#d" x="190.6" y="649.4"/>
<use href="#d" x="189.7" y="725.0"/>
<use href="#d" x="184.0" y="714.9"/>
<use href="#d" x="186.4" y="725.3"/>
<use href="#d" x="193.6" y="648.1"/>
<use href="#d" x="178.4" y="736.1"/>
<use href="#d" x="201.9" y="662.6"/>
<use href="#d" x="201.2" y="645.6"/>
<use href="#d" x="188.2" y="532.6"/>
<use href="#d" x="200.8" y="737.3"/>
<use href="#d" x="182.2" y="659.8"/>
<use href="#d" x="194.2" y="762.2"/>
<use href="#d" x="184.4" y="649.2"/>
<use href="#d" x="197.0" y="555.5"/>
<use href="#d" x="199.7" y="515.6"/>
<use href="#d" x="183.1" y="763.2"/>
<use href="#d" x="188.1" y="600.4"/>
<use href="#d" x="190.4" y="725.5"/>
<use href="#d" x="189.6" y="649.2"/>
<use href="#d" x="199.2" y="601.9"/>
<use href="#d" x="185.8" y="635.0"/>
<use href="#d" x="192.5" y="731.9"/>
<use href="#d" x="185.1" y="519.9"/>
<use href="#d" x="179.7" y="601.3"/>
<use href="#d" x="183.5" y="560.3"/>
<use href="#d" x="204.9" y="523.5"/>
<use href="#d" x="189.6" y="599.3"/>
<use href="#d" x="202.3" y="485.9"/>
<use href="#d" x="179.4" y="664.9"/>
<use href="#d" x="199.5" y="498.3"/>
<use href="#d" x="194.9" y="752.7"/>
<use href="#d" x="186.9" y="631.8"/>
<use href="#d" x="185.9" y="636.1"/>
<use href="#d" x="181.3" y="706.0"/>
<use href="#d" x="190.1" y="564.6"/>
<use href="#d" x="195.2" y="545.0"/>
<use href="#d" x="178.3" y="699.5"/>
<use href="#d" x="174.0" y="760.6"/>
<use href="#d" x="186.4" y="476.8"/>
<use href="#d" x="198.6" y="762.9"/>
<use href="#d" x="186.1" y="674.3"/>
<use href="#d" x="184.7" y="634.5"/>
<use href="#d" x="172.9" y="673.8"/>
<use href="#d" x="195.4" y="635.6"/>
<use href="#d" x="180.4" y="742.4"/>
<use href="#d" x="176.0" y="745.8"/>
<use href="#d" x="183.4" y="596.8"/>
<use href="#d" x="182.8" y="679.3"/>
<use href="#d" x="188.4" y="502.8"/>
<use href="#d" x="188.3" y="601.8"/>
<use href="#d" x="197.8" y="595.6"/>
<use href="#d" x="183.7" y="521.8"/>
<use href="#d" x="204.6" y="769.6"/>
<use href="#d" x="180.2" y="545.6"/>
<use href="#d" x="188.6" y="557.6"/>
<use href="#d" x="193.5" y="498.0"/>
<use href="#d" x="189.4" y="479.1"/>
<use href="#d" x="188.2" y="712.4"/>
<use href="#d" x="185.9" y="747.9"/>
<use href="#d" x="190.9" y="602.5"/>
<use href="#d" x="188.0" y="592.4"/>
<use href="#d" x="183.3" y="521.0"/>
<use href="#d" x="205.4" y="526.6"/>
<use href="#d" x="198.4" y="650.8"/>
<use href="#d" x="168.0" y="700.9"/>
<use href="#d" x="202.0" y="504.0"/>
<use href="#d" x="185.6" y="792.7"/>
<use href="#d" x="179.7" y="706.2"/>
<use href="#d" x="193.2" y="667.4"/>
<use href="#d" x="197.8" y="534.2"/>
<use href="#d" x="189.7" y="618.6"/>
<use href="#d" x="172.9" y="764.1"/>
<use href="#d" x="192.3" y="721.0"/>
<use href="#d" x="179.9" y="594.4"/>
<use href="#d" x="193.9" y="736.7"/>
<use href="#d" x="180.1" y="599.6"/>
<use href="#d" x="182.3" y="603.2"/>
<use href="#d" x="195.3" y="537.5"/>
<use href="#d" x="201.5" y="531.2"/>
<use href="#d" x="191.5" y="665.8"/>
<use href="#d" x="196.2" y="519.9"/>
<use href="#d" x="192.2" y="530.0"/>
<use href="#d" x="198.2" y="469.1"/>
<use href="#d" x="191.3" y="561.5"/>
<use href="#d" x="194.3" y="724.7"/>
<use href="#d" x="190.2" y="747.6"/>
<use href="#d" x="186.0" y="741.7"/>
<use href="#d" x="194.7" y="567.9"/>
<use href="#d" x="193.4" y="702.4"/>
<use href="#d" x="187.2" y="540.0"/>
<use href="#d" x="188.5" y="598.9"/>
<use href="#d" x="193.1" y="708.5"/>
<use href="#d" x="187.3" y="708.2"/>
<use href="#d" x="187.1" y="578.1"/>
<use href="#d" x="189.7" y="465.2"/>
<use href="#d" x="173.3" y="694.9"/>
<use href="#d" x="177.2" y="747.3"/>
<use href="#d" x="195.8" y="636.2"/>
<use href="#d" x="190.7" y="713.9"/>
<use href="#d" x="181.9" y="713.9"/>
<use href="#d" x="174.3" y="810.1"/>
<use href="#d" x="195.1" y="511.7"/>
<use href="#d" x="170.8" y="667.0"/>
<use href="#d" x="181.5" y="723.1"/>
<use href="#d" x="179.5" y="764.1"/>
<use href="#d" x="181.5" y="548.5"/>
<use href="#d" x="188.7" y="564.1"/>
<use href="#d" x="181.7" y="515.8"/>
<use href="#d" x="182.7" y="627.2"/>
<use href="#d" x="181.4" y="564.5"/>
<use href="#d" x="192.9" y="492.0"/>
<use href="#d" x="182.3" y="743.5"/>
<use href="#d" x="191.0" y="517.0"/>
<use href="#d" x="186.7" y="573.0"/>
<use href="#d" x="204.6" y="504.9"/>
<use href="#d" x="179.4" y="701.6"/>
<use href="#d" x="189.7" y="588.5"/>
<use href="#d" x="208.7" y="539.7"/>
<use href="#d" x="184.3" y="650.7"/>
<use href="#d" x="182.5" y="701.8"/>
<use href="#d" x="179.6" y="515.5"/>
<use href="#d" x="185.4" y="721.8"/>
<use href="#d" x="183.8" y="676.8"/>
<use href="#d" x="180.1" y="511.6"/>
<use href="#d" x="192.4" y="480.9"/>
<use href="#d" x="192.5" y="530.9"/>
<use href="#d" x="186.6" y="477.0"/>
<use href="#d" x="183.0" y="563.7"/>
<use href="#d" x="187.7" y="591.6"/>
<use href="#d" x="194.3" y="607.2"/>
<use href="#d" x="183.1" y="649.4"/>
<use href="#d" x="172.2" y="712.8"/>
<use href="#d" x="187.7" y="787.7"/>
<use href="#d" x="193.4" y="547.7"/>
<use href="#d" x="189.8" y="602.7"/>
<use href="#d" x="196.3" y="535.9"/>
<use href="#d" x="191.6" y="681.8"/>
<use href="#d" x="183.1" y="541.4"/>
<use href="#d" x="177.8" y="724.8"/>
<use href="#d" x="193.4" y="655.0"/>
<use href="#d" x="180.5" y="539.3"/>
<use href="#d" x="189.7" y="694.4"/>
<use href="#d" x="189.8" y="603.6"/>
<use href="#d" x="182.0" y="642.1"/>
<use href="#d" x="188.1" y="634.9"/>
<use href="#d" x="180.8" y="661.6"/>
<use href="#d" x="185.1" y="614.4"/>
<use href="#d" x="191.4" y="638.2"/>
<use href="#d" x="170.5" y="672.5"/>
<use href="#d" x="196.3" y="619.2"/>
<use href="#d" x="177.2" y="803.0"/>
<use href="#d" x="187.7" y="541.9"/>
<use href="#d" x="200.8" y="513.0"/>
<use href="#d" x="187.7" y="673.2"/>
<use href="#d" x="182.1" y="648.0"/>
<use href="#d" x="179.3" y="795.3"/>
<use href="#d" x="196.7" y="761.2"/>
<use href="#d" x="179.1" y="627.7"/>
<use href="#d" x="186.8" y="469.3"/>
<use href="#d" x="184.5" y="596.0"/>
<use href="#d" x="185.6" y="528.0"/>
<use href="#d" x="191.1" y="643.3"/>
<use href="#d" x="194.5" y="613.4"/>
<use href="#d" x="201.9" y="527.6"/>
<use href="#d" x="183.3" y="497.1"/>
<use href="#d" x="192.3" y="668.7"/>
<use href="#d" x="179.8" y="592.0"/>
<use href="#d" x="197.9" y="484.1"/>
<use href="#d" x="200.7" y="734.9"/>
<use href="#d" x="188.3" y="632.2"/>
<use href="#d" x="201.3" y="688.0"/>
<use href="#d" x="181.2" y="500.6"/>
<use href="#d" x="195.6" y="556.1"/>
<use href="#d" x="180.4" y="676.4"/>
<use href="#d" x="180.2" y="557.8"/>
<use href="#d" x="193.2" y="560.7"/>
<use href="#d" x="172.1" y="695.5"/>
<use href="#d" x="186.2" y="704.8"/>
<use href="#d" x="176.9" y="717.0"/>
<use href="#d" x="193.0" y="555.1"/>
<use href="#d" x="196.0" y="692.4"/>
<use href="#d" x="199.3" y="520.1"/>
<use href="#d" x="186.6" y="647.0"/>
<use href="#d" x="177.5" y="654.2"/>
<use href="#d" x="197.2" y="494.4"/>
<use href="#d" x="175.8" y="612.2"/>
<use href="#d" x="174.9" y="564.1"/>
<use href="#d" x="186.5" y="640.6"/>
<use href="#d" x="194.2" y="513.9"/>
<use href="#d" x="178.3" y="592.9"/>
<use href="#d" x="171.5" y="682.5"/>
<use href="#d" x="176.5" y="746.8"/>
<use href="#d" x="182.4" y="691.2"/>
<use href="#d" x="188.8" y="688.2"/>
<use href="#d" x="200.1" y="636.6"/>
<use href="#d" x="192.0" y="706.7"/>
<use href="#d" x="185.2" y="512.9"/>
<use href="#d" x="181.3" y="783.2"/>
<use href="#d" x="191.4" y="756.4"/>
<use href="#d" x="189.4" y="630.7"/>
<use href="#d" x="190.8" y="547.9"/>
<use href="#d" x="184.3" y="498.8"/>
<use href="#d" x="179.0" y="487.5"/>
<use href="#d" x="182.1" y="474.4"/>
<use href="#d" x="181.9" y="560.4"/>
<use href="#d" x="195.2" y="465.8"/>
<use href="#d" x="192.6" y="513.4"/>
<use href="#d" x="184.3" y="736.8"/>
<use href="#d" x="175.6" y="533.9"/>
<use href="#d" x="206.2" y="499.0"/>
<use href="#d" x="182.5" y="692.9"/>
<use href="#d" x="191.3" y="774.0"/>
<use href="#d" x="183.4" y="581.5"/>
<use href="#d" x="192.1" y="684.5"/>
<use href="#d" x="186.9" y="715.8"/>
<use href="#d" x="193.3" y="491.1"/>
<use href="#d" x="182.0" y="810.4"/>
<use href="#d" x="190.7" y="563.9"/>
<use href="#d" x="206.2" y="516.7"/>
<use href="#d" x="197.9" y="599.1"/>
<use href="#d" x="192.3" y="680.6"/>
<use href="#d" x="185.9" y="622.2"/>
<use href="#d" x="190.7" y="521.7"/>
<use href="#d" x="173.5" y="737.8"/>
<use href="#d" x="199.1" y="553.8"/>
<use href="#d" x="197.5" y="707.2"/>
<use href="#d" x="186.8" y="543.0"/>
<use href="#d" x="191.0" y="641.3"/>
<use href="#d" x="181.7" y="567.3"/>
<use href="#d" x="191.9" y="633.4"/>
<use href="#d" x="186.9" y="462.2"/>
<use href="#d" x="178.0" y="543.8"/>
<use href="#d" x="197.7" y="768.1"/>
<use href="#d" x="197.4" y="490.3"/>
<use href="#d" x="196.3" y="550.5"/>
<use href="#d" x="204.0" y="733.4"/>
<use href="#d" x="187.9" y="666.7"/>
<use href="#d" x="185.4" y="589.6"/>
<use href="#d" x="214.4" y="451.2"/>
<use href="#d" x="213.7" y="455.5"/>
<use href="#d" x="200.6" y="453.1"/>
<use href="#d" x="192.6" y="456.3"/>
<use href="#d" x="186.8" y="458.4"/>
<use href="#d" x="170.9" y="465.0"/>
<use href="#d" x="177.4" y="470.1"/>
<use href="#d" x="185.4" y="466.4"/>
<use href="#d" x="199.9" y="467.9"/>
<use href="#d" x="226.0" y="476.3"/>
<use href="#d" x="219.5" y="480.2"/>
<use href="#d" x="205.0" y="478.0"/>
<use href="#d" x="191.2" y="477.3"/>
<use href="#d" x="178.8" y="478.0"/>
<use href="#d" x="223.1" y="486.0"/>
<use href="#d" x="222.4" y="494.0"/>
<use href="#d" x="210.0" y="486.7"/>
<use href="#d" x="184.6" y="484.6"/>
<use href="#d" x="173.8" y="488.2"/>
<use href="#d" x="199.2" y="488.9"/>
<use href="#d" x="203.5" y="494.0"/>
<use href="#d" x="194.1" y="499.1"/>
<use href="#d" x="184.6" y="502.7"/>
<use href="#d" x="169.4" y="499.8"/>
<use href="#d" x="168.7" y="507.1"/>
<use href="#d" x="173.8" y="513.6"/>
<use href="#d" x="215.1" y="504.2"/>
<use href="#d" x="219.5" y="512.1"/>
<use href="#d" x="207.9" y="512.9"/>
<use href="#d" x="195.5" y="515.8"/>
<use href="#d" x="184.6" y="514.3"/>
<use href="#d" x="224.5" y="521.6"/>
<use href="#d" x="231.1" y="525.2"/>
<use href="#d" x="229.6" y="531.7"/>
<use href="#d" x="182.5" y="525.2"/>
<use href="#d" x="199.2" y="528.8"/>
<use href="#d" x="190.4" y="533.2"/>
<use href="#d" x="209.3" y="531.7"/>
<use href="#d" x="216.6" y="531.7"/>
<use href="#d" x="163.6" y="536.1"/>
<use href="#d" x="181.7" y="537.5"/>
<use href="#d" x="173.0" y="544.1"/>
<use href="#d" x="194.1" y="541.9"/>
<use href="#d" x="202.1" y="539.0"/>
<use href="#d" x="215.1" y="544.8"/>
<use href="#d" x="223.8" y="546.2"/>
<use href="#d" x="156.6" y="562.1"/>
<use href="#d" x="148.8" y="584.5"/>
<use href="#d" x="215.1" y="545.8"/>
<use href="#d" x="225.3" y="547.3"/>
<use href="#d" x="213.7" y="557.4"/>
<use href="#d" x="225.3" y="558.1"/>
<use href="#d" x="233.2" y="558.1"/>
<use href="#d" x="218.7" y="563.2"/>
<use href="#d" x="205.0" y="551.6"/>
<use href="#d" x="194.8" y="542.9"/>
<use href="#d" x="173.0" y="544.4"/>
<use href="#d" x="181.0" y="563.2"/>
<use href="#d" x="196.2" y="568.3"/>
<use href="#d" x="171.6" y="570.5"/>
<use href="#d" x="177.4" y="576.3"/>
<use href="#d" x="191.9" y="577.7"/>
<use href="#d" x="205.7" y="577.0"/>
<use href="#d" x="215.1" y="581.4"/>
<use href="#d" x="229.6" y="586.1"/>
<use href="#d" x="202.1" y="583.5"/>
<use href="#d" x="170.9" y="590.8"/>
<use href="#d" x="186.1" y="589.3"/>
<use href="#d" x="197.0" y="597.3"/>
<use href="#d" x="218.0" y="600.2"/>
<use href="#d" x="210.8" y="602.4"/>
<use href="#d" x="213.7" y="608.9"/>
<use href="#d" x="189.0" y="603.8"/>
<use href="#d" x="181.0" y="609.6"/>
<use href="#d" x="170.9" y="611.1"/>
<use href="#d" x="199.2" y="614.0"/>
<use href="#d" x="183.9" y="620.5"/>
<use href="#d" x="202.1" y="623.4"/>
<use href="#d" x="188.3" y="629.2"/>
<use href="#d" x="173.8" y="632.1"/>
<use href="#d" x="181.7" y="638.7"/>
<use href="#d" x="194.1" y="636.5"/>
<use href="#d" x="224.5" y="635.0"/>
<use href="#d" x="218.7" y="639.4"/>
<use href="#d" x="209.3" y="640.1"/>
<use href="#d" x="228.9" y="651.0"/>
<use href="#d" x="203.5" y="648.8"/>
<use href="#d" x="189.0" y="649.5"/>
<use href="#d" x="173.0" y="650.3"/>
<use href="#d" x="214.4" y="656.8"/>
<use href="#d" x="163.6" y="659.0"/>
<use href="#d" x="178.8" y="660.4"/>
<use href="#d" x="196.2" y="661.9"/>
<use href="#d" x="229.6" y="664.1"/>
<use href="#d" x="220.2" y="667.7"/>
<use href="#d" x="142.6" y="690.9"/>
<use href="#d" x="125.2" y="738.3"/>
<use href="#d" x="155.6" y="728.9"/>
<use href="#d" x="154.9" y="734.7"/>
<use href="#d" x="155.6" y="673.1"/>
<use href="#d" x="157.8" y="678.9"/>
<use href="#d" x="165.1" y="670.9"/>
<use href="#d" x="162.2" y="698.4"/>
<use href="#d" x="163.6" y="708.6"/>
<use href="#d" x="220.9" y="668.0"/>
<use href="#d" x="230.3" y="664.4"/>
<use href="#d" x="214.4" y="660.7"/>
<use href="#d" x="226.7" y="691.2"/>
<use href="#d" x="219.5" y="697.0"/>
<use href="#d" x="212.9" y="688.3"/>
<use href="#d" x="233.2" y="707.2"/>
<use href="#d" x="215.8" y="710.1"/>
<use href="#d" x="220.2" y="718.0"/>
<use href="#d" x="231.1" y="715.9"/>
<use href="#d" x="178.8" y="662.9"/>
<use href="#d" x="196.2" y="664.4"/>
<use href="#d" x="183.2" y="677.4"/>
<use href="#d" x="197.7" y="675.2"/>
<use href="#d" x="205.7" y="668.7"/>
<use href="#d" x="186.1" y="686.1"/>
<use href="#d" x="203.5" y="680.3"/>
<use href="#d" x="178.8" y="696.3"/>
<use href="#d" x="194.1" y="696.3"/>
<use href="#d" x="203.5" y="699.2"/>
<use href="#d" x="179.6" y="709.3"/>
<use href="#d" x="199.9" y="709.3"/>
<use href="#d" x="174.5" y="716.6"/>
<use href="#d" x="189.0" y="717.3"/>
<use href="#d" x="203.5" y="726.0"/>
<use href="#d" x="195.5" y="729.6"/>
<use href="#d" x="183.2" y="729.6"/>
<use href="#d" x="173.0" y="731.8"/>
<use href="#d" x="213.7" y="734.7"/>
<use href="#d" x="202.8" y="736.9"/>
<use href="#d" x="183.2" y="742.0"/>
<use href="#d" x="167.2" y="742.7"/>
<use href="#d" x="176.7" y="747.8"/>
<use href="#d" x="191.2" y="752.9"/>
<use href="#d" x="166.5" y="752.1"/>
<use href="#d" x="195.5" y="748.5"/>
<use href="#d" x="186.8" y="763.7"/>
<use href="#d" x="196.2" y="768.1"/>
<use href="#d" x="206.4" y="768.1"/>
<use href="#d" x="223.1" y="774.6"/>
<use href="#d" x="170.1" y="771.0"/>
<use href="#d" x="181.0" y="775.3"/>
<use href="#d" x="170.1" y="776.8"/>
<use href="#d" x="175.2" y="782.6"/>
<use href="#d" x="187.5" y="784.8"/>
<use href="#d" x="190.4" y="776.1"/>
<use href="#d" x="182.5" y="791.8"/>
<use href="#d" x="172.3" y="791.1"/>
<use href="#d" x="194.1" y="797.6"/>
<use href="#d" x="176.7" y="798.3"/>
<use href="#d" x="189.0" y="804.2"/>
<use href="#d" x="214.1" y="805.3"/>
<use href="#d" x="174.5" y="811.4"/>
<use href="#d" x="178.8" y="807.1"/>
<use href="#d" x="186.1" y="815.8"/>
<use href="#d" x="169.8" y="820.5"/>
<use href="#d" x="181.0" y="823.0"/>
<use href="#d" x="98.4" y="751.4"/>
<use href="#d" x="508.9" y="679.0"/>
<use href="#d" x="498.7" y="675.9"/>
<use href="#d" x="505.4" y="660.9"/>
<use href="#d" x="527.0" y="665.9"/>
<use href="#d" x="507.6" y="672.8"/>
<use href="#d" x="519.3" y="663.6"/>
<use href="#d" x="513.9" y="652.3"/>
<use href="#d" x="504.3" y="658.7"/>
<use href="#d" x="494.7" y="645.9"/>
<use href="#d" x="491.7" y="661.1"/>
<use href="#d" x="506.3" y="660.2"/>
<use href="#d" x="508.7" y="648.0"/>
<use href="#d" x="507.2" y="666.9"/>
<use href="#d" x="515.5" y="653.8"/>
<use href="#d" x="504.0" y="639.8"/>
<use href="#d" x="503.0" y="637.6"/>
<use href="#d" x="552.4" y="731.4"/>
<use href="#d" x="546.5" y="728.8"/>
<use href="#d" x="565.5" y="719.3"/>
<use href="#d" x="566.4" y="726.5"/>
<use href="#d" x="570.8" y="720.0"/>
<use href="#d" x="558.6" y="716.9"/>
<use href="#d" x="555.6" y="721.6"/>
<use href="#d" x="557.1" y="731.1"/>
<use href="#d" x="549.0" y="712.7"/>
<use href="#d" x="555.9" y="704.2"/>
<use href="#d" x="577.3" y="701.5"/>
<use href="#d" x="560.9" y="717.5"/>
<use href="#d" x="575.4" y="705.1"/>
<use href="#d" x="571.0" y="715.8"/>
<use href="#d" x="561.8" y="716.3"/>
<use href="#d" x="567.8" y="712.3"/>
<use href="#d" x="562.4" y="725.0"/>
<use href="#d" x="576.8" y="701.6"/>
<use href="#d" x="427.1" y="560.3"/>
<use href="#d" x="419.1" y="557.4"/>
<use href="#d" x="419.1" y="563.4"/>
<use href="#d" x="421.8" y="555.0"/>
<use href="#d" x="420.1" y="555.1"/>
<use href="#d" x="420.3" y="552.0"/>
<use href="#d" x="429.2" y="547.4"/>
<use href="#d" x="406.6" y="555.4"/>
<use href="#d" x="702.1" y="602.6"/>
<use href="#d" x="701.8" y="599.0"/>
<use href="#d" x="705.0" y="606.8"/>
<use href="#d" x="700.3" y="597.4"/>
<use href="#d" x="714.6" y="603.7"/>
<use href="#d" x="697.1" y="616.3"/>
<use href="#d" x="658.1" y="669.1"/>
<use href="#d" x="650.3" y="673.5"/>
<use href="#d" x="651.7" y="666.7"/>
<use href="#d" x="649.8" y="669.5"/>
<use href="#d" x="363.1" y="501.4"/>
<use href="#d" x="322.1" y="509.9"/>
<use href="#d" x="314.1" y="517.3"/>
<use href="#d" x="348.4" y="517.0"/>
<use href="#d" x="342.7" y="526.7"/>
<use href="#d" x="353.4" y="537.9"/>
<use href="#d" x="288.6" y="551.3"/>
<use href="#d" x="280.7" y="562.2"/>
<use href="#d" x="240.4" y="549.9"/>
<use href="#d" x="372.3" y="563.0"/>
<use href="#d" x="421.5" y="478.8"/>
<use href="#d" x="466.7" y="483.0"/>
<use href="#d" x="415.2" y="505.2"/>
<use href="#d" x="478.8" y="512.8"/>
<use href="#d" x="383.9" y="520.6"/>
<use href="#d" x="414.8" y="526.5"/>
<use href="#d" x="432.3" y="532.9"/>
<use href="#d" x="453.3" y="530.0"/>
<use href="#d" x="496.7" y="539.9"/>
<use href="#d" x="475.9" y="547.1"/>
<use href="#d" x="404.3" y="539.9"/>
<use href="#d" x="412.7" y="544.6"/>
<use href="#d" x="420.2" y="543.7"/>
<use href="#d" x="408.5" y="554.6"/>
<use href="#d" x="414.3" y="557.1"/>
<use href="#d" x="424.4" y="556.0"/>
<use href="#d" x="426.9" y="553.8"/>
<use href="#d" x="460.7" y="558.0"/>
<use href="#d" x="522.3" y="554.3"/>
<use href="#d" x="431.9" y="561.3"/>
<use href="#d" x="534.5" y="518.6"/>
<use href="#d" x="581.1" y="531.2"/>
<use href="#d" x="584.8" y="534.9"/>
<use href="#d" x="565.7" y="547.4"/>
<use href="#d" x="757.4" y="510.8"/>
<use href="#d" x="719.9" y="517.3"/>
<use href="#d" x="728.9" y="527.8"/>
<use href="#d" x="726.1" y="536.2"/>
<use href="#d" x="719.9" y="547.4"/>
<use href="#d" x="775.1" y="540.7"/>
<use href="#d" x="784.7" y="551.3"/>
<use href="#d" x="758.7" y="554.3"/>
<use href="#d" x="246.8" y="571.2"/>
<use href="#d" x="296.7" y="574.9"/>
<use href="#d" x="329.1" y="575.4"/>
<use href="#d" x="370.6" y="568.2"/>
<use href="#d" x="365.3" y="585.4"/>
<use href="#d" x="353.4" y="593.6"/>
<use href="#d" x="306.5" y="588.3"/>
<use href="#d" x="317.1" y="585.8"/>
<use href="#d" x="321.3" y="587.4"/>
<use href="#d" x="295.3" y="595.8"/>
<use href="#d" x="275.2" y="598.3"/>
<use href="#d" x="306.5" y="602.2"/>
<use href="#d" x="296.1" y="604.2"/>
<use href="#d" x="265.2" y="609.7"/>
<use href="#d" x="292.8" y="616.7"/>
<use href="#d" x="327.6" y="615.4"/>
<use href="#d" x="366.5" y="618.7"/>
<use href="#d" x="371.5" y="618.4"/>
<use href="#d" x="279.9" y="625.4"/>
<use href="#d" x="293.6" y="635.1"/>
<use href="#d" x="314.9" y="634.3"/>
<use href="#d" x="332.6" y="632.3"/>
<use href="#d" x="268.9" y="640.5"/>
<use href="#d" x="298.7" y="646.9"/>
<use href="#d" x="312.1" y="647.2"/>
<use href="#d" x="317.9" y="648.9"/>
<use href="#d" x="360.9" y="646.5"/>
<use href="#d" x="371.5" y="650.2"/>
<use href="#d" x="237.6" y="645.2"/>
<use href="#d" x="320.8" y="664.4"/>
<use href="#d" x="352.6" y="670.8"/>
<use href="#d" x="279.4" y="673.7"/>
<use href="#d" x="295.0" y="671.6"/>
<use href="#d" x="305.4" y="672.8"/>
<use href="#d" x="305.7" y="682.4"/>
<use href="#d" x="240.9" y="689.2"/>
<use href="#d" x="235.0" y="683.7"/>
<use href="#d" x="287.3" y="700.9"/>
<use href="#d" x="284.4" y="711.3"/>
<use href="#d" x="378.3" y="578.2"/>
<use href="#d" x="402.6" y="571.5"/>
<use href="#d" x="411.8" y="568.2"/>
<use href="#d" x="421.0" y="564.8"/>
<use href="#d" x="413.5" y="579.1"/>
<use href="#d" x="420.2" y="574.9"/>
<use href="#d" x="431.1" y="572.4"/>
<use href="#d" x="444.5" y="573.7"/>
<use href="#d" x="428.6" y="584.1"/>
<use href="#d" x="417.7" y="590.8"/>
<use href="#d" x="432.8" y="579.9"/>
<use href="#d" x="396.8" y="598.3"/>
<use href="#d" x="407.6" y="597.5"/>
<use href="#d" x="409.7" y="609.7"/>
<use href="#d" x="446.1" y="595.5"/>
<use href="#d" x="439.5" y="603.3"/>
<use href="#d" x="427.7" y="607.2"/>
<use href="#d" x="439.5" y="611.7"/>
<use href="#d" x="444.5" y="619.2"/>
<use href="#d" x="428.6" y="620.9"/>
<use href="#d" x="436.1" y="621.8"/>
<use href="#d" x="443.6" y="631.8"/>
<use href="#d" x="433.9" y="637.7"/>
<use href="#d" x="444.5" y="646.9"/>
<use href="#d" x="382.5" y="619.2"/>
<use href="#d" x="390.9" y="620.1"/>
<use href="#d" x="395.9" y="625.1"/>
<use href="#d" x="392.6" y="631.0"/>
<use href="#d" x="396.8" y="644.4"/>
<use href="#d" x="406.8" y="643.5"/>
<use href="#d" x="421.9" y="642.7"/>
<use href="#d" x="415.2" y="651.1"/>
<use href="#d" x="406.0" y="654.4"/>
<use href="#d" x="397.6" y="673.7"/>
<use href="#d" x="432.8" y="674.5"/>
<use href="#d" x="402.6" y="697.9"/>
<use href="#d" x="425.2" y="697.9"/>
<use href="#d" x="428.6" y="697.9"/>
<use href="#d" x="375.0" y="650.2"/>
<use href="#d" x="462.9" y="584.9"/>
<use href="#d" x="470.4" y="585.8"/>
<use href="#d" x="476.3" y="593.3"/>
<use href="#d" x="470.4" y="599.2"/>
<use href="#d" x="462.1" y="603.3"/>
<use href="#d" x="466.2" y="608.4"/>
<use href="#d" x="479.6" y="608.4"/>
<use href="#d" x="473.8" y="619.2"/>
<use href="#d" x="466.2" y="623.4"/>
<use href="#d" x="478.8" y="627.6"/>
<use href="#d" x="463.7" y="634.3"/>
<use href="#d" x="461.2" y="646.9"/>
<use href="#d" x="467.9" y="651.1"/>
<use href="#d" x="457.9" y="656.9"/>
<use href="#d" x="464.6" y="662.8"/>
<use href="#d" x="468.8" y="672.0"/>
<use href="#d" x="459.5" y="675.3"/>
<use href="#d" x="457.9" y="684.5"/>
<use href="#d" x="447.0" y="687.0"/>
<use href="#d" x="447.0" y="699.6"/>
<use href="#d" x="440.3" y="707.1"/>
<use href="#d" x="471.3" y="694.6"/>
<use href="#d" x="473.8" y="709.6"/>
<use href="#d" x="493.9" y="710.0"/>
<use href="#d" x="503.9" y="582.4"/>
<use href="#d" x="502.6" y="595.0"/>
<use href="#d" x="519.0" y="595.8"/>
<use href="#d" x="517.3" y="600.0"/>
<use href="#d" x="519.0" y="605.0"/>
<use href="#d" x="497.2" y="619.2"/>
<use href="#d" x="509.8" y="618.4"/>
<use href="#d" x="502.2" y="625.1"/>
<use href="#d" x="508.9" y="631.8"/>
<use href="#d" x="488.8" y="632.6"/>
<use href="#d" x="482.1" y="628.5"/>
<use href="#d" x="478.8" y="639.3"/>
<use href="#d" x="484.7" y="642.7"/>
<use href="#d" x="494.7" y="646.0"/>
<use href="#d" x="508.9" y="646.0"/>
<use href="#d" x="502.2" y="653.6"/>
<use href="#d" x="492.2" y="655.2"/>
<use href="#d" x="516.5" y="652.7"/>
<use href="#d" x="498.0" y="662.8"/>
<use href="#d" x="508.9" y="663.6"/>
<use href="#d" x="483.8" y="669.5"/>
<use href="#d" x="492.2" y="675.3"/>
<use href="#d" x="502.2" y="672.8"/>
<use href="#d" x="508.9" y="673.7"/>
<use href="#d" x="519.0" y="674.5"/>
<use href="#d" x="494.7" y="684.5"/>
<use href="#d" x="483.8" y="687.0"/>
<use href="#d" x="508.9" y="683.7"/>
<use href="#d" x="502.2" y="691.2"/>
<use href="#d" x="490.5" y="696.3"/>
<use href="#d" x="482.1" y="703.0"/>
<use href="#d" x="499.7" y="704.6"/>
<use href="#d" x="512.3" y="696.3"/>
<use href="#d" x="521.5" y="694.6"/>
<use href="#d" x="515.6" y="706.3"/>
<use href="#d" x="524.0" y="634.3"/>
<use href="#d" x="524.0" y="657.8"/>
<use href="#d" x="546.8" y="583.6"/>
<use href="#d" x="579.9" y="580.7"/>
<use href="#d" x="620.4" y="588.8"/>
<use href="#d" x="653.1" y="596.6"/>
<use href="#d" x="554.3" y="593.3"/>
<use href="#d" x="557.6" y="598.3"/>
<use href="#d" x="563.5" y="605.9"/>
<use href="#d" x="535.0" y="613.1"/>
<use href="#d" x="595.6" y="605.0"/>
<use href="#d" x="669.0" y="604.7"/>
<use href="#d" x="564.3" y="616.7"/>
<use href="#d" x="586.1" y="613.4"/>
<use href="#d" x="580.2" y="619.2"/>
<use href="#d" x="586.1" y="621.8"/>
<use href="#d" x="574.4" y="625.1"/>
<use href="#d" x="583.6" y="628.5"/>
<use href="#d" x="595.8" y="628.1"/>
<use href="#d" x="561.0" y="627.3"/>
<use href="#d" x="605.4" y="620.1"/>
<use href="#d" x="615.7" y="615.1"/>
<use href="#d" x="631.3" y="622.3"/>
<use href="#d" x="649.7" y="627.3"/>
<use href="#d" x="661.4" y="621.8"/>
<use href="#d" x="669.0" y="615.1"/>
<use href="#d" x="529.2" y="634.3"/>
<use href="#d" x="541.7" y="633.5"/>
<use href="#d" x="665.6" y="634.3"/>
<use href="#d" x="674.0" y="628.5"/>
<use href="#d" x="672.3" y="637.7"/>
<use href="#d" x="586.1" y="641.8"/>
<use href="#d" x="614.9" y="642.2"/>
<use href="#d" x="566.9" y="645.2"/>
<use href="#d" x="554.3" y="647.7"/>
<use href="#d" x="532.5" y="645.2"/>
<use href="#d" x="526.7" y="647.7"/>
<use href="#d" x="529.2" y="654.4"/>
<use href="#d" x="556.5" y="655.2"/>
<use href="#d" x="652.2" y="641.8"/>
<use href="#d" x="648.0" y="646.0"/>
<use href="#d" x="640.5" y="646.0"/>
<use href="#d" x="632.1" y="649.4"/>
<use href="#d" x="605.4" y="654.4"/>
<use href="#d" x="600.3" y="662.4"/>
<use href="#d" x="606.2" y="665.3"/>
<use href="#d" x="536.7" y="662.8"/>
<use href="#d" x="541.7" y="662.8"/>
<use href="#d" x="669.3" y="658.6"/>
<use href="#d" x="555.1" y="667.0"/>
<use href="#d" x="571.0" y="670.0"/>
<use href="#d" x="558.5" y="674.5"/>
<use href="#d" x="529.2" y="673.7"/>
<use href="#d" x="649.7" y="670.0"/>
<use href="#d" x="653.1" y="675.3"/>
<use href="#d" x="669.8" y="673.7"/>
<use href="#d" x="674.0" y="667.0"/>
<use href="#d" x="665.6" y="677.0"/>
<use href="#d" x="586.1" y="673.7"/>
<use href="#d" x="581.1" y="682.5"/>
<use href="#d" x="615.7" y="675.3"/>
<use href="#d" x="609.5" y="682.0"/>
<use href="#d" x="603.7" y="687.9"/>
<use href="#d" x="565.2" y="686.2"/>
<use href="#d" x="555.1" y="685.4"/>
<use href="#d" x="551.8" y="692.1"/>
<use href="#d" x="558.5" y="691.2"/>
<use href="#d" x="556.0" y="697.9"/>
<use href="#d" x="570.2" y="699.6"/>
<use href="#d" x="580.2" y="702.1"/>
<use href="#d" x="583.6" y="707.1"/>
<use href="#d" x="570.2" y="707.1"/>
<use href="#d" x="558.5" y="706.3"/>
<use href="#d" x="548.4" y="710.5"/>
<use href="#d" x="638.8" y="697.1"/>
<use href="#d" x="669.0" y="691.2"/>
<use href="#d" x="665.6" y="696.3"/>
<use href="#d" x="660.6" y="699.6"/>
<use href="#d" x="664.8" y="707.1"/>
<use href="#d" x="674.0" y="703.0"/>
<use href="#d" x="761.2" y="565.7"/>
<use href="#d" x="706.8" y="567.3"/>
<use href="#d" x="711.0" y="569.0"/>
<use href="#d" x="721.9" y="566.5"/>
<use href="#d" x="717.7" y="574.9"/>
<use href="#d" x="731.9" y="578.2"/>
<use href="#d" x="713.5" y="583.3"/>
<use href="#d" x="726.9" y="585.8"/>
<use href="#d" x="740.3" y="584.1"/>
<use href="#d" x="700.1" y="589.1"/>
<use href="#d" x="706.8" y="589.9"/>
<use href="#d" x="721.9" y="596.6"/>
<use href="#d" x="746.1" y="591.6"/>
<use href="#d" x="750.3" y="595.0"/>
<use href="#d" x="742.0" y="597.5"/>
<use href="#d" x="747.8" y="605.0"/>
<use href="#d" x="753.7" y="611.7"/>
<use href="#d" x="699.3" y="601.7"/>
<use href="#d" x="688.4" y="605.9"/>
<use href="#d" x="678.3" y="615.9"/>
<use href="#d" x="721.0" y="616.7"/>
<use href="#d" x="715.2" y="625.1"/>
<use href="#d" x="808.9" y="608.9"/>
<use href="#d" x="805.2" y="628.1"/>
<use href="#d" x="679.2" y="626.8"/>
<use href="#d" x="689.2" y="631.8"/>
<use href="#d" x="696.8" y="632.6"/>
<use href="#d" x="702.6" y="635.1"/>
<use href="#d" x="712.7" y="636.0"/>
<use href="#d" x="676.7" y="639.3"/>
<use href="#d" x="732.8" y="628.5"/>
<use href="#d" x="733.6" y="641.0"/>
<use href="#d" x="746.5" y="639.3"/>
<use href="#d" x="708.5" y="641.0"/>
<use href="#d" x="725.2" y="648.5"/>
<use href="#d" x="713.5" y="650.2"/>
<use href="#d" x="682.5" y="652.7"/>
<use href="#d" x="687.6" y="657.8"/>
<use href="#d" x="723.5" y="656.9"/>
<use href="#d" x="713.5" y="659.4"/>
<use href="#d" x="786.8" y="647.7"/>
<use href="#d" x="775.1" y="654.4"/>
<use href="#d" x="781.0" y="662.4"/>
<use href="#d" x="795.0" y="659.9"/>
<use href="#d" x="795.2" y="675.0"/>
<use href="#d" x="700.9" y="667.8"/>
<use href="#d" x="708.5" y="667.8"/>
<use href="#d" x="727.7" y="667.0"/>
<use href="#d" x="716.9" y="664.4"/>
<use href="#d" x="742.8" y="670.0"/>
<use href="#d" x="683.4" y="673.7"/>
<use href="#d" x="702.6" y="676.2"/>
<use href="#d" x="713.5" y="673.7"/>
<use href="#d" x="684.2" y="681.2"/>
<use href="#d" x="678.3" y="679.5"/>
<use href="#d" x="711.8" y="685.4"/>
<use href="#d" x="697.6" y="687.9"/>
<use href="#d" x="728.6" y="686.2"/>
<use href="#d" x="690.1" y="692.9"/>
<use href="#d" x="695.1" y="698.8"/>
<use href="#d" x="703.5" y="698.8"/>
<use href="#d" x="677.5" y="693.7"/>
<use href="#d" x="726.1" y="699.6"/>
<use href="#d" x="719.4" y="703.8"/>
<use href="#d" x="711.0" y="707.1"/>
<use href="#d" x="757.5" y="689.2"/>
<use href="#d" x="767.6" y="697.9"/>
<use href="#d" x="676.7" y="711.3"/>
<use href="#d" x="839.2" y="613.9"/>
<use href="#d" x="871.0" y="646.0"/>
<use href="#d" x="327.6" y="720.9"/>
<use href="#d" x="334.7" y="729.8"/>
<use href="#d" x="295.0" y="766.5"/>
<use href="#d" x="238.4" y="721.8"/>
<use href="#d" x="244.8" y="721.4"/>
<use href="#d" x="244.3" y="726.8"/>
<use href="#d" x="441.5" y="716.7"/>
<use href="#d" x="514.5" y="722.6"/>
<use href="#d" x="427.2" y="735.7"/>
<use href="#d" x="448.3" y="732.6"/>
<use href="#d" x="467.4" y="739.8"/>
<use href="#d" x="473.8" y="748.5"/>
<use href="#d" x="479.6" y="754.4"/>
<use href="#d" x="436.4" y="751.4"/>
<use href="#d" x="495.5" y="761.9"/>
<use href="#d" x="506.4" y="763.6"/>
<use href="#d" x="518.1" y="761.9"/>
<use href="#d" x="512.3" y="769.5"/>
<use href="#d" x="508.1" y="777.8"/>
<use href="#d" x="516.5" y="786.2"/>
<use href="#d" x="436.4" y="783.7"/>
<use href="#d" x="484.7" y="787.4"/>
<use href="#d" x="427.2" y="807.6"/>
<use href="#d" x="422.2" y="813.0"/>
<use href="#d" x="483.8" y="824.7"/>
<use href="#d" x="532.5" y="725.1"/>
<use href="#d" x="541.7" y="717.6"/>
<use href="#d" x="565.2" y="716.7"/>
<use href="#d" x="575.2" y="715.1"/>
<use href="#d" x="585.3" y="720.9"/>
<use href="#d" x="546.8" y="726.8"/>
<use href="#d" x="556.0" y="721.8"/>
<use href="#d" x="561.0" y="730.1"/>
<use href="#d" x="570.2" y="726.8"/>
<use href="#d" x="579.4" y="730.1"/>
<use href="#d" x="538.4" y="731.0"/>
<use href="#d" x="545.9" y="734.3"/>
<use href="#d" x="556.0" y="736.8"/>
<use href="#d" x="570.2" y="736.8"/>
<use href="#d" x="578.6" y="739.3"/>
<use href="#d" x="541.7" y="739.3"/>
<use href="#d" x="551.8" y="744.4"/>
<use href="#d" x="566.0" y="743.5"/>
<use href="#d" x="540.9" y="746.9"/>
<use href="#d" x="550.1" y="750.2"/>
<use href="#d" x="556.0" y="756.1"/>
<use href="#d" x="560.2" y="756.9"/>
<use href="#d" x="593.6" y="742.7"/>
<use href="#d" x="587.8" y="749.1"/>
<use href="#d" x="578.6" y="761.1"/>
<use href="#d" x="528.3" y="767.8"/>
<use href="#d" x="554.3" y="768.1"/>
<use href="#d" x="553.5" y="781.5"/>
<use href="#d" x="563.5" y="786.2"/>
<use href="#d" x="568.5" y="815.2"/>
<use href="#d" x="579.4" y="826.7"/>
<use href="#d" x="625.9" y="818.9"/>
<use href="#d" x="636.8" y="807.1"/>
<use href="#d" x="658.4" y="737.2"/>
<use href="#d" x="656.1" y="749.9"/>
<use href="#d" x="757.0" y="718.4"/>
<use href="#d" x="755.0" y="716.4"/>
<use href="#d" x="731.1" y="725.1"/>
<use href="#d" x="742.5" y="730.1"/>
<use href="#d" x="704.3" y="717.6"/>
<use href="#d" x="706.0" y="725.1"/>
<use href="#d" x="711.8" y="730.1"/>
<use href="#d" x="706.8" y="736.8"/>
<use href="#d" x="726.1" y="744.4"/>
<use href="#d" x="678.3" y="723.4"/>
<use href="#d" x="683.4" y="729.3"/>
<use href="#d" x="692.6" y="735.2"/>
<use href="#d" x="687.6" y="728.5"/>
<use href="#d" x="840.4" y="717.9"/>
</g>
<g fill="none" stroke="#000" stroke-width="2">
<path d="M74.6 0V828.7"/><path d="M883.8 0V828"/>
<path d="M73.8 1H884.5999999999999" stroke-width="2.2"/>
<path d="M74.6 414.6H883.8" stroke-width="2.5"/>
</g>
<g fill="none" stroke="#444" stroke-width="1.3">
<path d="M67 414.9H74.6"/>
<path d="M67 363.2H74.6"/>
<path d="M67 311.5H74.6"/>
<path d="M67 259.8H74.6"/>
<path d="M67 208.1H74.6"/>
<path d="M67 156.4H74.6"/>
<path d="M67 104.7H74.6"/>
<path d="M67 53.0H74.6"/>
<path d="M67 1.3H74.6"/>
<path d="M67 828.5H74.6"/>
<path d="M67 776.8H74.6"/>
<path d="M67 725.1H74.6"/>
<path d="M67 673.4H74.6"/>
<path d="M67 621.7H74.6"/>
<path d="M67 570.0H74.6"/>
<path d="M67 518.3H74.6"/>
<path d="M67 466.6H74.6"/>
</g>
<g font-size="24">
<text x="59.5" y="61.4" text-anchor="end">15</text>
<text x="59.5" y="164.8" text-anchor="end">5</text>
<text x="59.5" y="268.2" text-anchor="end">-5</text>
<text x="59.5" y="371.6" text-anchor="end">-15</text>
<text x="59.5" y="526.7" text-anchor="end">10</text>
<text x="59.5" y="630.1" text-anchor="end">0</text>
<text x="59.5" y="733.5" text-anchor="end">-10</text>
</g>
<g font-size="20">
<text x="54.4" y="863">500</text>
<text x="211.3" y="863">1000</text>
<text x="372.3" y="863">1500</text>
<text x="533.4" y="863">2000</text>
<text x="695" y="863">2500</text>
<text x="856.7" y="863">3000</text>
</g>
<text transform="translate(421.7 890.6) scale(1.08 1)" font-size="20.5" textLength="87.5" lengthAdjust="spacing">Age (Ma)</text>
<text transform="translate(14.6 448.6) rotate(-90) scale(0.83 1)" font-size="19" textLength="65" lengthAdjust="spacing" style="fill:#231815;stroke:#231815;stroke-width:0.8"><tspan font-size="26">ε</tspan>Hf(t)</text>
<text x="77.5" y="22" font-size="22">(a)</text>
<text x="77.5" y="435.6" font-size="22">(b)</text>
<text transform="translate(660.7 41.7) scale(1.08 1)" font-size="20" textLength="159.5" lengthAdjust="spacing">central Jiangnan</text>
<text transform="translate(662.3 65.7) scale(1.08 1)" font-size="20" textLength="146.0" lengthAdjust="spacing">Huaiyu Terrane</text>
<text transform="translate(650.7 452.7) scale(1.08 1)" font-size="20" textLength="192.2" lengthAdjust="spacing">southwest Jiangnan</text>
<g font-size="17" letter-spacing="0.17" style="fill:#222"><text transform="translate(657 350) rotate(-22.3)"><tspan font-size="9.5" dy="-6.5">176</tspan><tspan dy="6.5">Lu/</tspan><tspan font-size="9.5" dy="-6.5">177</tspan><tspan dy="6.5">Hf =0.015</tspan></text><text transform="translate(263.5 740.5) rotate(-22.3)"><tspan font-size="9.5" dy="-6.5">176</tspan><tspan dy="6.5">Lu/</tspan><tspan font-size="9.5" dy="-6.5">177</tspan><tspan dy="6.5">Hf =0.015</tspan></text></g>
</svg></body></html>
